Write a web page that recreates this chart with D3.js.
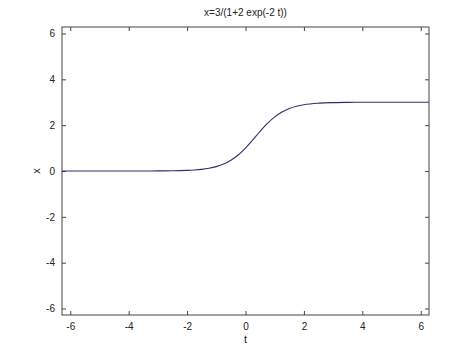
<!DOCTYPE html>
<html>
<head>
<meta charset="utf-8">
<script src="https://cdn.jsdelivr.net/npm/d3@7"></script>
<style>
  body { margin: 0; background: #fff; }
  text { font-family: "Liberation Sans", Arial, sans-serif; }
</style>
</head>
<body>
<svg id="chart" width="474" height="354"></svg>
<script>
// *** Data ***
var tValues = [-6.28, -5, -4, -3.5, -3, -2.5, -2.25, -2, -1.75, -1.5, -1.25, -1, -0.75, -0.5, -0.25,
               0, 0.25, 0.5, 0.75, 1, 1.25, 1.5, 1.75, 2, 2.5, 3, 3.5, 4, 5, 6.28];
var xValues = [0, 0, 0.0005, 0.0014, 0.0037, 0.0101, 0.0166, 0.0272, 0.0446, 0.0729, 0.1183, 0.1901, 0.3011, 0.4661, 0.6981,
               1, 1.3556, 1.7283, 2.0743, 2.361, 2.5769, 2.7283, 2.8291, 2.8941, 2.9601, 2.9852, 2.9945, 2.998, 2.9997, 3];
var xTicks = [-6, -4, -2, 0, 2, 4, 6];
var yTicks = [-6, -4, -2, 0, 2, 4, 6];
var titleText = "x=3/(1+2 exp(-2 t))";

// *** Layout *** ('top' is taken by window.top, so use plot* names)
var plotLeft = 62, plotRight = 429, plotTop = 27, plotBottom = 315;
var svg = d3.select("#chart");

var xScale = d3.scaleLinear().domain([-2 * Math.PI, 2 * Math.PI]).range([plotLeft, plotRight]);
var yScale = d3.scaleLinear().domain([-2 * Math.PI, 2 * Math.PI]).range([plotBottom, plotTop]);

var axisColor = "#444";
var fmt = function (d) { return String(d); }; // plain hyphen, like the original

function styleAxis(g) {
    g.select(".domain").remove();
    g.selectAll(".tick line").attr("stroke", axisColor);
    g.selectAll(".tick text").attr("fill", "#222").style("font-size", "10px");
}

// bottom axis (ticks point inward)
svg.append("g")
    .attr("transform", "translate(0," + plotBottom + ")")
    .call(d3.axisBottom(xScale).tickValues(xTicks).tickFormat(fmt).tickSizeInner(-4).tickSizeOuter(0).tickPadding(8))
    .call(styleAxis);

// top axis, no labels
svg.append("g")
    .attr("transform", "translate(0," + plotTop + ")")
    .call(d3.axisTop(xScale).tickValues(xTicks).tickSizeInner(-4).tickSizeOuter(0).tickFormat(""))
    .call(styleAxis);

// left axis
svg.append("g")
    .attr("transform", "translate(" + plotLeft + ",0)")
    .call(d3.axisLeft(yScale).tickValues(yTicks).tickFormat(fmt).tickSizeInner(-4).tickSizeOuter(0).tickPadding(7))
    .call(styleAxis);

// right axis, no labels
svg.append("g")
    .attr("transform", "translate(" + plotRight + ",0)")
    .call(d3.axisRight(yScale).tickValues(yTicks).tickSizeInner(-4).tickSizeOuter(0).tickFormat(""))
    .call(styleAxis);

// box
svg.append("rect")
    .attr("x", plotLeft).attr("y", plotTop)
    .attr("width", plotRight - plotLeft).attr("height", plotBottom - plotTop)
    .attr("fill", "none")
    .attr("stroke", axisColor)
    .attr("stroke-width", 1);

// *** The curve ***
var points = tValues.map(function (t, i) { return [t, xValues[i]]; });
var line = d3.line()
    .x(function (d) { return xScale(d[0]); })
    .y(function (d) { return yScale(d[1]); })
    .curve(d3.curveMonotoneX);

svg.append("path")
    .datum(points)
    .attr("d", line)
    .attr("fill", "none")
    .attr("stroke", "#2f2f6f")
    .attr("stroke-width", 1.1);

// *** Labels ***
svg.append("text")
    .attr("x", (plotLeft + plotRight) / 2).attr("y", 16)
    .attr("text-anchor", "middle")
    .style("font-size", "10px")
    .attr("fill", "#222")
    .text(titleText);

svg.append("text")
    .attr("x", (plotLeft + plotRight) / 2).attr("y", 343)
    .attr("text-anchor", "middle")
    .style("font-size", "11px")
    .attr("fill", "#222")
    .text("t");

svg.append("text")
    .attr("transform", "translate(40," + yScale(0) + ") rotate(-90)")
    .attr("text-anchor", "middle")
    .style("font-size", "11px")
    .attr("fill", "#222")
    .text("x");
</script>
</body>
</html>
